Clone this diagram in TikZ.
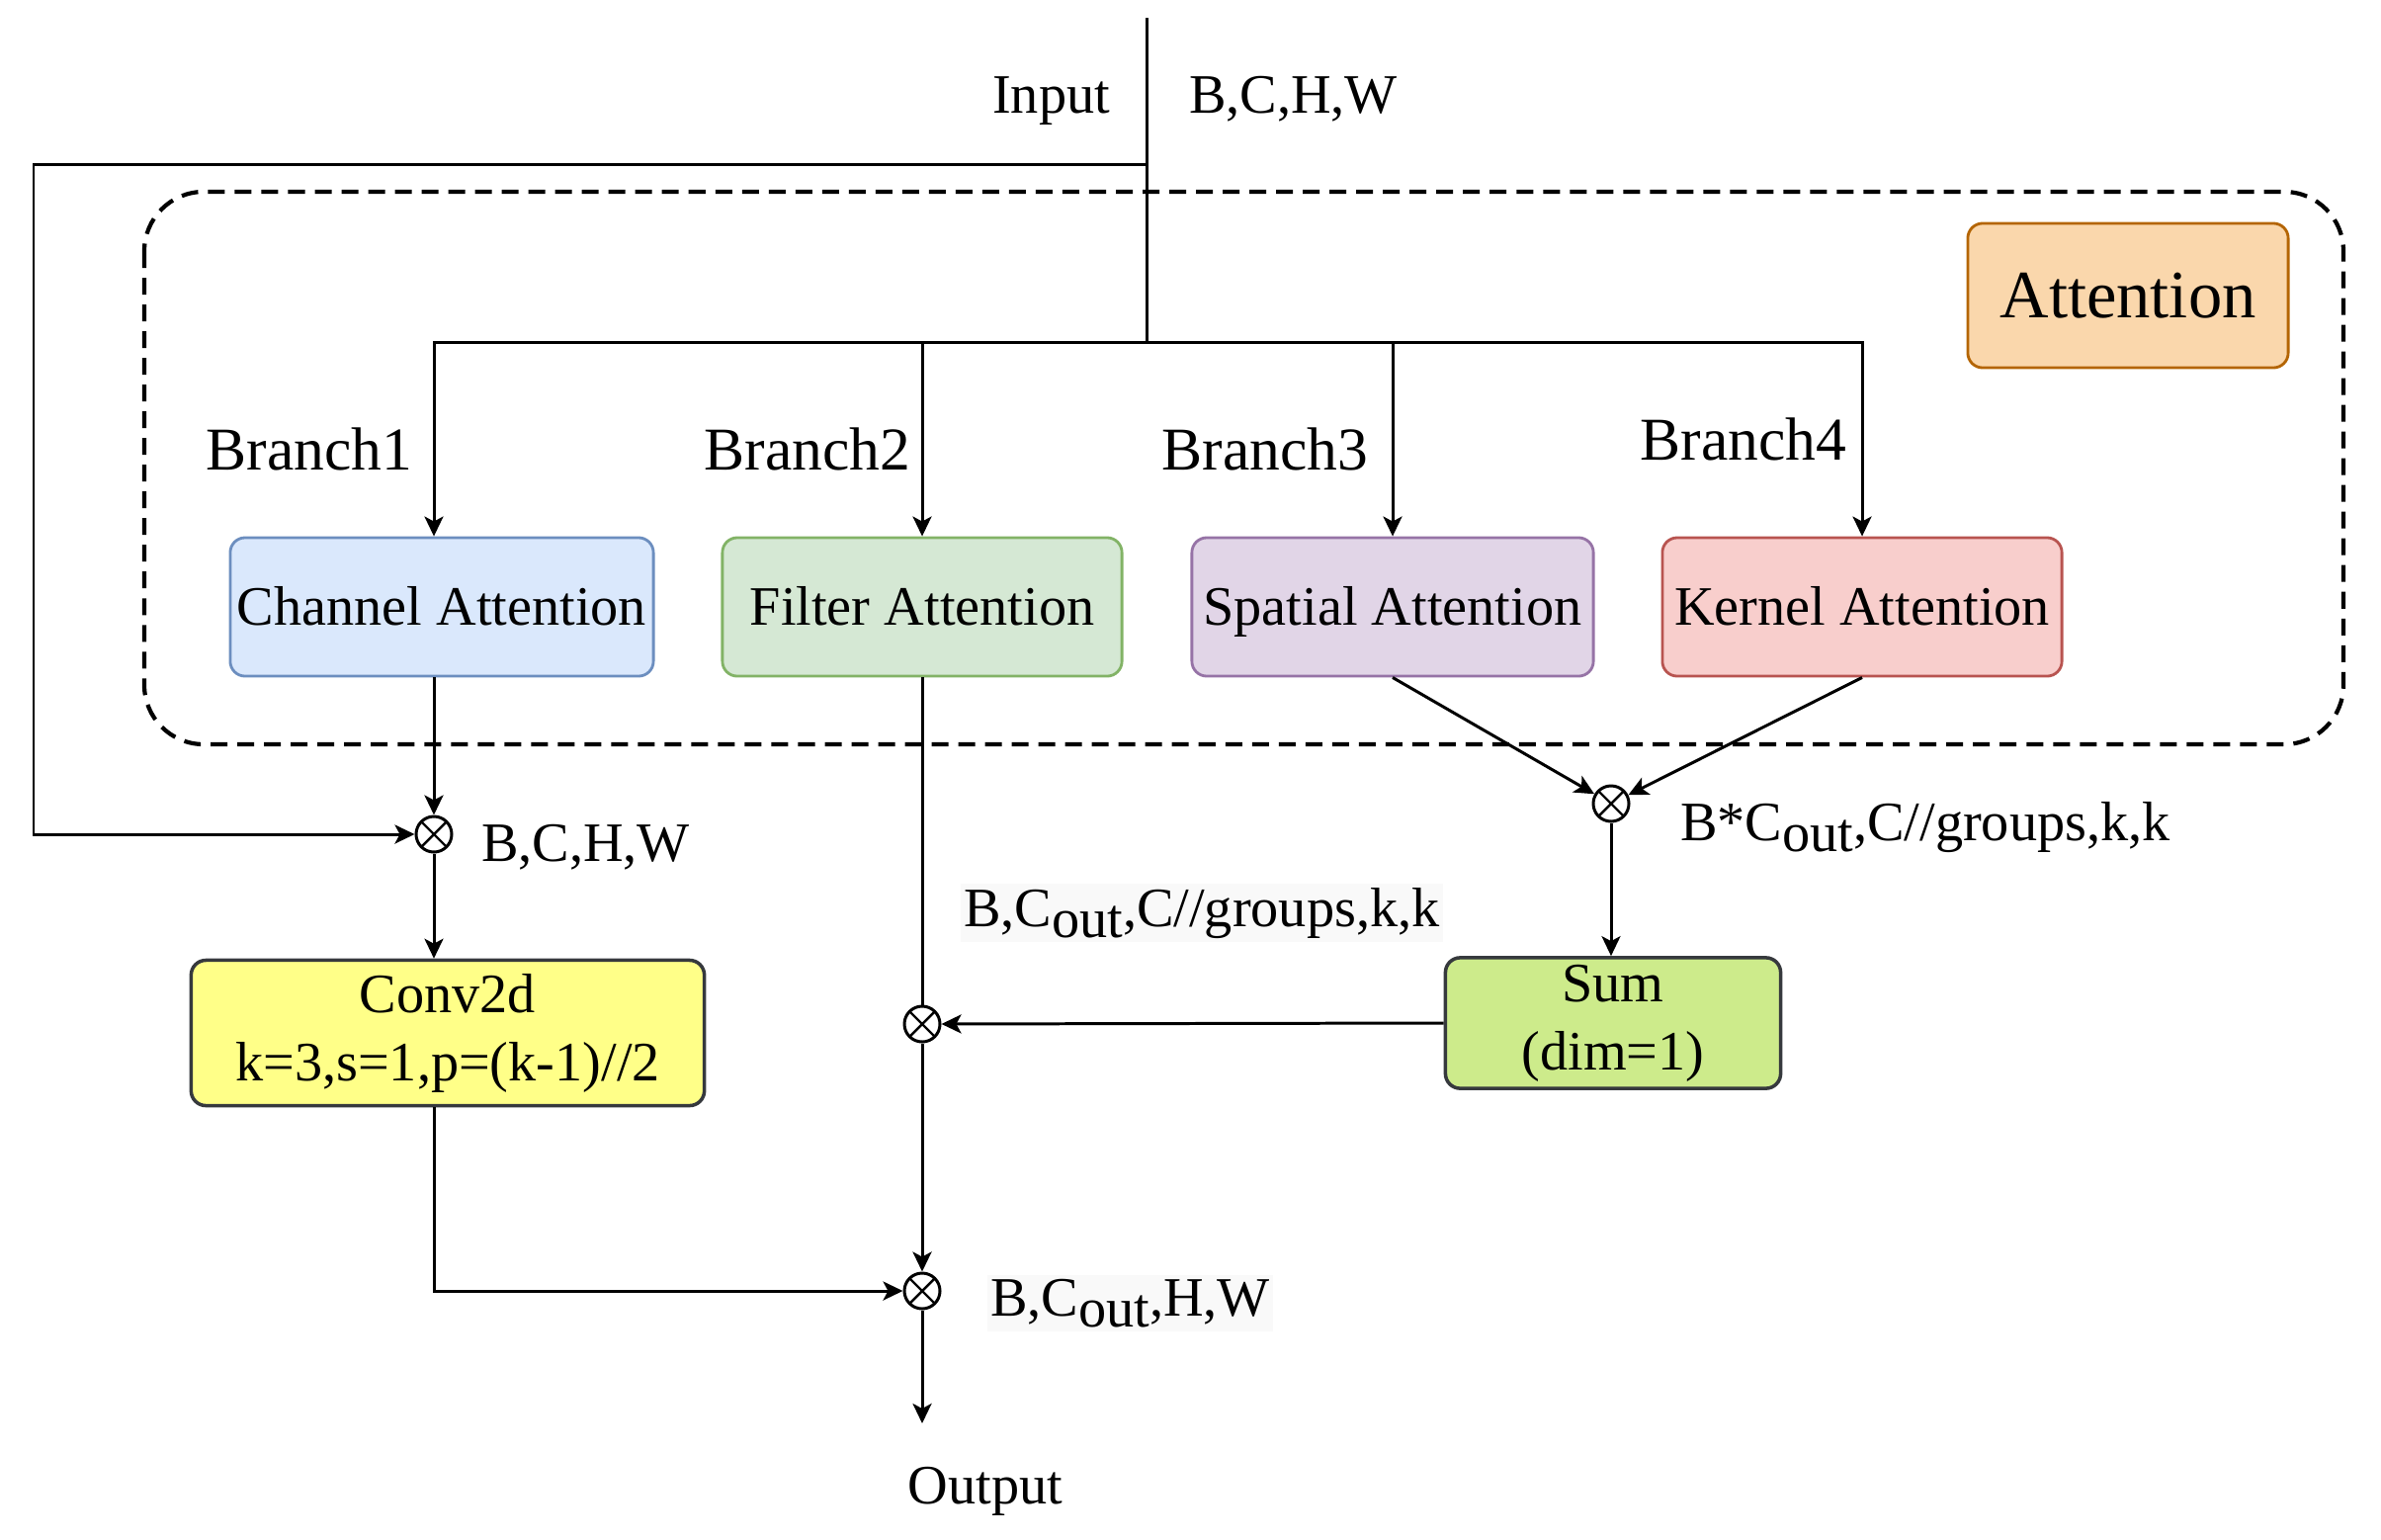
\documentclass[tikz,border=0pt]{standalone}
\usepackage{fontspec}
\setmainfont{Liberation Serif}
\usetikzlibrary{arrows.meta}

\definecolor{chfill}{HTML}{DAE8FC}\definecolor{chdraw}{HTML}{6C8EBF}
\definecolor{fifill}{HTML}{D5E8D4}\definecolor{fidraw}{HTML}{82B366}
\definecolor{spfill}{HTML}{E1D5E7}\definecolor{spdraw}{HTML}{9673A6}
\definecolor{kefill}{HTML}{F8CECC}\definecolor{kedraw}{HTML}{B85450}
\definecolor{atfill}{HTML}{FAD7AC}\definecolor{atdraw}{HTML}{B46504}
\definecolor{cvfill}{HTML}{FFFF88}\definecolor{sumfill}{HTML}{CDEB8B}
\definecolor{darkline}{HTML}{36393D}

\newcommand{\Cout}{C\raisebox{-0.45ex}{out}}

\begin{document}
\begin{tikzpicture}[
  x=0.01cm, y=-0.01cm,
  >={Stealth[length=0.2cm, width=0.19cm, inset=0.05cm]},
  line width=0.85pt,
  attn box/.style={rectangle, rounded corners=0.15cm, draw, line width=0.8pt, minimum height=1.4cm,
    inner sep=2pt, font=\fontsize{16}{19.6}\selectfont, align=center},
  branch box/.style={attn box, text height=11pt, text depth=0.4pt},
  op box/.style={attn box, draw=darkline, line width=1pt},
  mult/.style={circle, draw, minimum size=0.36cm, inner sep=0pt, fill=white,
    path picture={\draw[line width=0.7pt] (path picture bounding box.south west) -- (path picture bounding box.north east)
      (path picture bounding box.north west) -- (path picture bounding box.south east);}},
  dim label/.style={font=\fontsize{16}{19}\selectfont, inner sep=1pt},
  branch label/.style={font=\fontsize{17.5}{20}\selectfont, inner sep=0pt},
  frame/.style={dash pattern=on 0.17cm off 0.1cm, line width=1.2pt, rounded corners=0.6cm}
]
\useasboundingbox (0,0) rectangle (2409,1557);

% Attention group
\draw[frame] (146,194) rectangle (2371,753);
\node[attn box, fill=atfill, draw=atdraw, minimum width=3.24cm, minimum height=1.46cm,
  font=\fontsize{19.5}{22}\selectfont] (attn) at (2153,299) {Attention};

% Nodes
\node[branch box, fill=chfill, draw=chdraw, minimum width=4.27cm] (CA) at (447,614) {Channel Attention};
\node[branch box, fill=fifill, draw=fidraw, minimum width=4.04cm] (FA) at (933,614) {Filter Attention};
\node[branch box, fill=spfill, draw=spdraw, minimum width=4.06cm] (SA) at (1409,614) {Spatial Attention};
\node[branch box, fill=kefill, draw=kedraw, minimum width=4.04cm] (KA) at (1884,614) {Kernel Attention};

\node[op box, fill=cvfill, minimum width=5.19cm, minimum height=1.47cm] (conv) at (453,1045) {Conv2d\\k=3,s=1,p=(k-1)//2};
\node[op box, fill=sumfill, minimum width=3.39cm, minimum height=1.29cm] (sum) at (1632,1035) {Sum\\(dim=1)};

\node[mult] (m1) at (439,844) {};
\node[mult] (m2) at (1630,813) {};
\node[mult] (m3) at (933,1036) {};
\node[mult] (m4) at (933,1306) {};

\coordinate (in) at (1160,18);
\coordinate (tap) at (1160,166);
\coordinate (split) at (1160,346);
\coordinate (skip) at (34,166);
\coordinate (out) at (933,1440);

% Labels
\node[dim label, anchor=base east] (inlbl) at (1128,114) {Input};
\node[dim label, anchor=base west] (inshape) at (1198,114) {B,C,H,W};
\node[branch label, anchor=base] (br1) at (313,475) {Branch1};
\node[branch label, anchor=base] (br2) at (817,475) {Branch2};
\node[branch label, anchor=base] (br3) at (1280,475) {Branch3};
\node[branch label, anchor=base] (br4) at (1764,465) {Branch4};
\node[dim label, anchor=base west] (m1lbl) at (482,871) {B,C,H,W};
\node[dim label, anchor=base west] (m2lbl) at (1695,850) {B*\Cout,C//groups,k,k};
\node[dim label, anchor=base west, fill=gray!5] (m3lbl) at (970,937) {B,\Cout,C//groups,k,k};
\node[dim label, anchor=base west, fill=gray!5] (m4lbl) at (997,1331) {B,\Cout,H,W};
\node[dim label, anchor=base] (outlbl) at (997,1521) {Output};

% Edges
\draw (in) -- (split);
\draw[->] (tap) -- (skip) |- (m1);
\draw[->] (split) -| (m1 |- CA.north);
\draw[->] (split) -| (FA.north);
\draw[->] (split) -| (SA.north);
\draw[->] (split) -| (KA.north);

\draw[->] (CA.south -| m1) -- (m1);
\draw[->] (m1) -- (conv.north -| m1);
\draw[->] (conv.south -| m1) |- (m4);

\draw[->] (SA.south) -- (m2);
\draw[->] (KA.south) -- (m2);
\draw[->] (m2) -- (sum.north -| m2);

\draw (FA.south) -- (m3);
\draw[->] (sum.west) -- (m3);
\draw[->] (m3) -- (m4);
\draw[->] (m4) -- (out);

\end{tikzpicture}
\end{document}
